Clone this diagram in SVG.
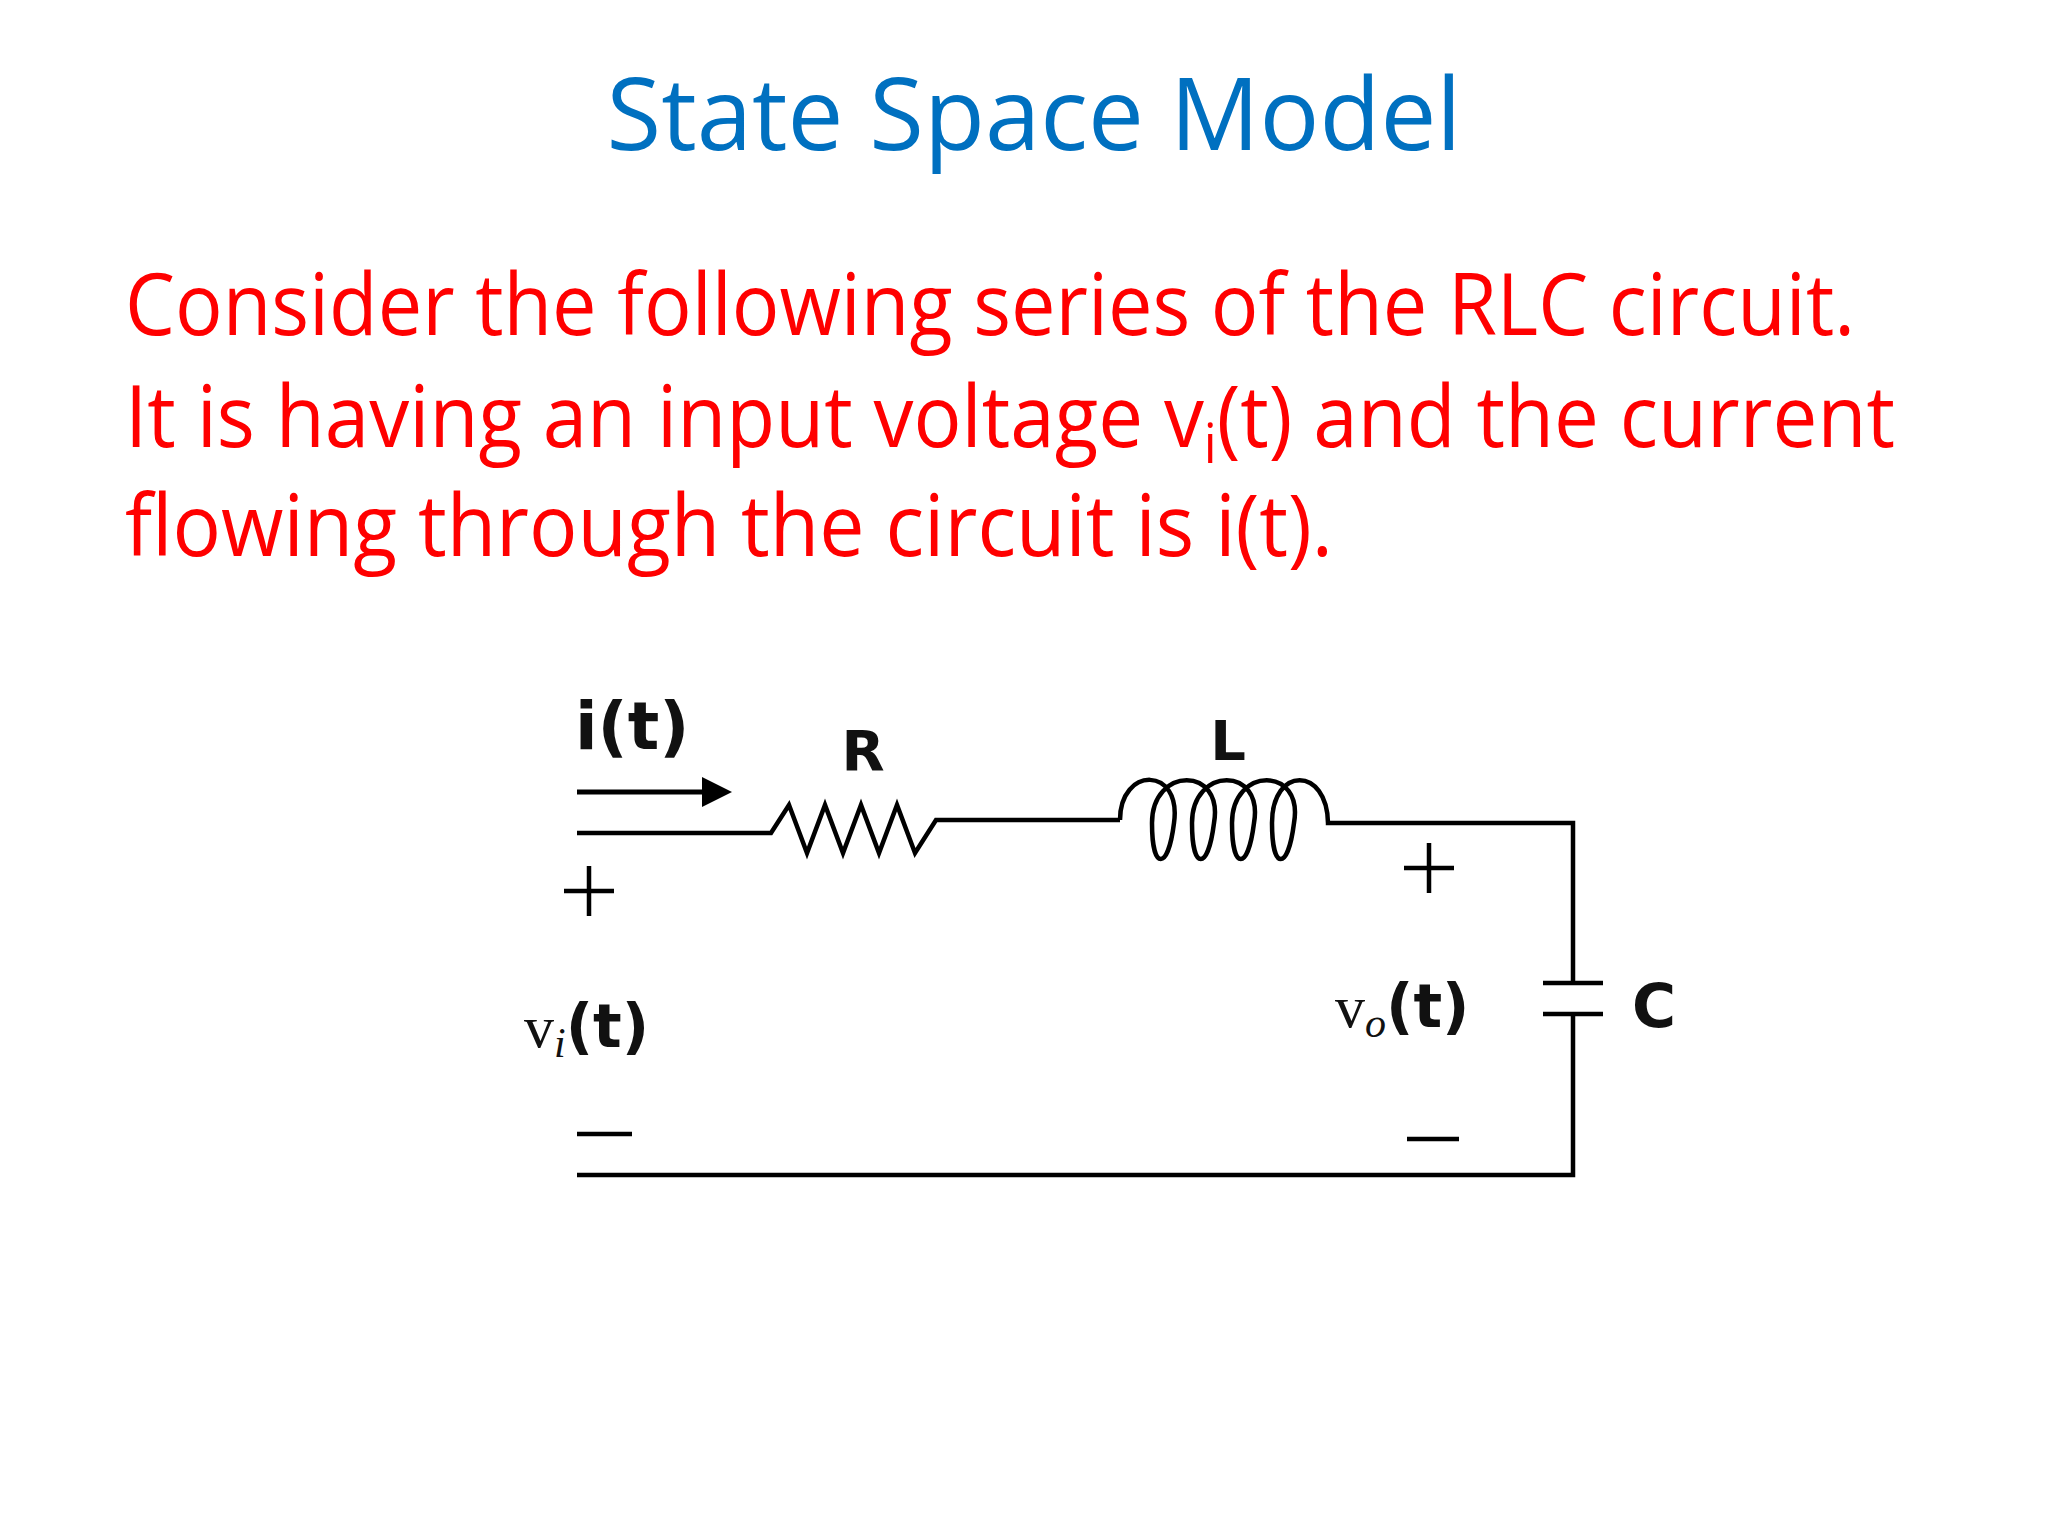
<svg xmlns="http://www.w3.org/2000/svg" width="2048" height="1536" viewBox="0 0 2048 1536">
<style>
.w{stroke:#000;stroke-width:4.5;fill:none}
.body{font-family:"Open Sans","Liberation Sans",sans-serif;font-size:86px;fill:#ff0000}
.lbl{font-family:"DejaVu Sans","Liberation Sans",sans-serif;font-weight:bold;fill:#111}
</style>
<rect width="2048" height="1536" fill="#fff"/>
<g id="title"><text x="1034" y="150" text-anchor="middle" font-family="Open Sans, Liberation Sans, sans-serif" font-size="100" fill="#0070c0" textLength="855" lengthAdjust="spacingAndGlyphs">State Space Model</text></g>
<g id="text">
<text class="body" x="125" y="335" textLength="1730" lengthAdjust="spacingAndGlyphs">Consider the following series of the RLC circuit.</text>
<text class="body" x="125" y="447" textLength="1770" lengthAdjust="spacingAndGlyphs">It is having an input voltage v<tspan font-size="55" dy="16">i</tspan><tspan dy="-16">(t) and the current</tspan></text>
<text class="body" x="125" y="556" textLength="1208" lengthAdjust="spacingAndGlyphs">flowing through the circuit is i(t).</text>
</g>
<g transform="translate(-8,-9)">
<g id="connectors">
<path class="w" d="M585 842 H779 L797 814 L815 862 L833 814 L851 862 L869 814 L887 862 L905 814 L923 862 L944 829 H1128"/>
<path class="w" d="M1128 829 C1128 775 1190 775 1182 832 C1176 880 1160 880 1160 832 C1160 775 1232 775 1222 832 C1216 880 1200 880 1200 832 C1200 775 1272 775 1262 832 C1256 880 1240 880 1240 832 C1240 775 1312 775 1302 832 C1296 880 1280 880 1280 832 C1280 775 1335 775 1336 832 H1581 V992"/>
<path class="w" d="M1581 1023 V1184 H585"/>
<path class="w" d="M1551 992 H1611 M1551 1023 H1611"/>
<path d="M585 801 H718" stroke="#000" stroke-width="5"/>
<polygon points="740,801 710,786 710,816" fill="#000"/>
<path class="w" d="M572 900 H622 M597 875 V925 M1412 877 H1462 M1437 852 V902 M585 1143 H640 M1415 1148 H1467" stroke-width="3"/>
</g>
<g id="labels">
<text class="lbl" x="583" y="758" font-size="66">i(t)</text>
<text class="lbl" x="871" y="779" font-size="56" text-anchor="middle">R</text>
<text class="lbl" x="1236" y="769" font-size="56" text-anchor="middle">L</text>
<text class="lbl" x="1640" y="1036" font-size="60">C</text>
<text x="532" y="1056" font-size="60" class="lbl"><tspan font-family="Liberation Serif,serif" font-weight="normal">v</tspan><tspan font-family="Liberation Serif,serif" font-style="italic" font-weight="normal" font-size="42" dy="10">i</tspan><tspan dy="-10">(t)</tspan></text>
<text x="1343" y="1036" font-size="60" class="lbl"><tspan font-family="Liberation Serif,serif" font-weight="normal">v</tspan><tspan font-family="Liberation Serif,serif" font-style="italic" font-weight="normal" font-size="42" dy="10">o</tspan><tspan dy="-10">(t)</tspan></text>
</g>
</g>
</svg>
